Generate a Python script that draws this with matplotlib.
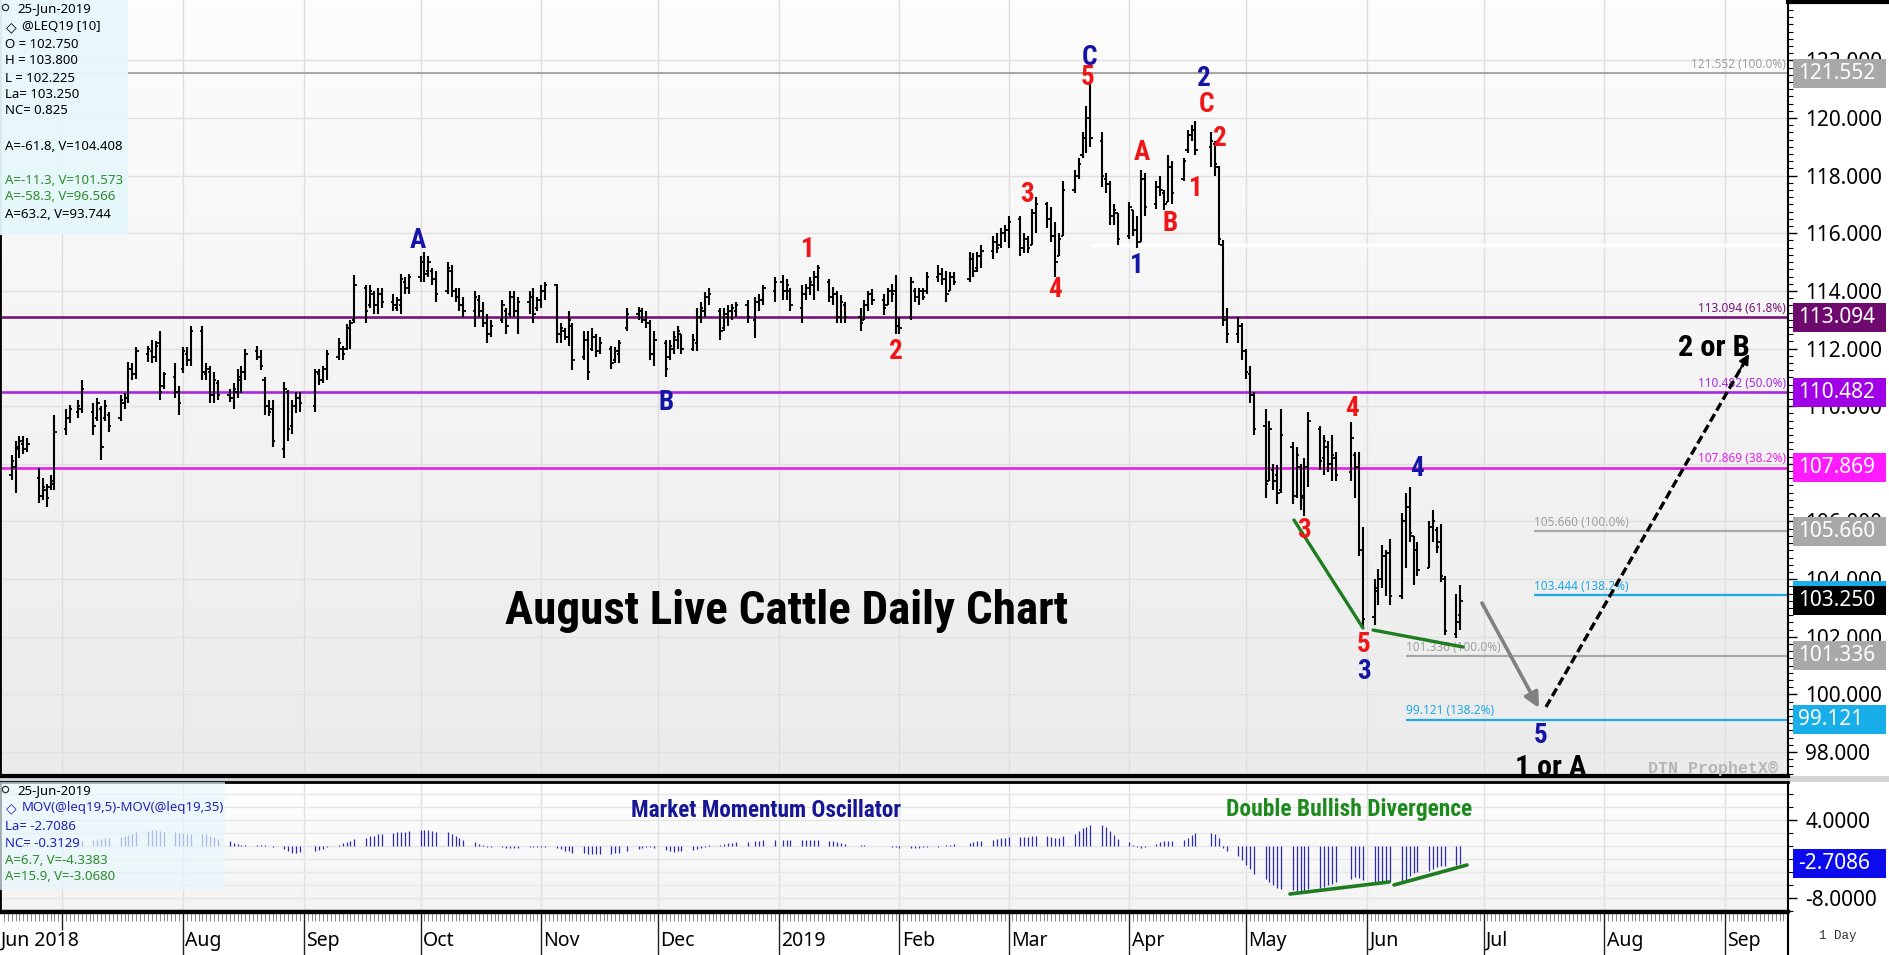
import os
import numpy as np
import pandas as pd
import matplotlib
matplotlib.use('Agg')
import matplotlib.pyplot as plt
import matplotlib.dates as mdates
import matplotlib.transforms as mtrans
from matplotlib.patches import Rectangle
from matplotlib.lines import Line2D
from matplotlib.colors import LinearSegmentedColormap
from matplotlib import font_manager as fm


def pick_font(cands):
    for c in cands:
        try:
            fm.findfont(fm.FontProperties(family=c), fallback_to_default=False)
            return c
        except Exception:
            pass
    return 'DejaVu Sans'


def find_narrow_bold():
    prefs = ['liberationsansnarrow-bold.', 'arialnarrowbold', 'arialnarrow-bold',
             'robotocondensed-bold.', 'opensanscondensed-bold', 'opensans_condensed-bold',
             'notosans-condensedbold', 'notosans-semicondensedbold',
             'notosansdisplay-condensedbold']
    files = [f.fname for f in fm.fontManager.ttflist]
    for p in prefs:
        for f in files:
            if p in os.path.basename(f).lower().replace(' ', ''):
                return f
    for f in files:
        nm = os.path.basename(f).lower()
        if (('narrow' in nm or 'condensed' in nm) and 'bold' in nm and 'dejavu' not in nm
                and 'extrabold' not in nm and 'semibold' not in nm and 'italic' not in nm):
            return f
    return None


UI = pick_font(['Noto Sans', 'Open Sans', 'DejaVu Sans'])
MONO = pick_font(['Liberation Mono', 'DejaVu Sans Mono'])
_nb = find_narrow_bold()
if _nb:
    NB = fm.FontProperties(fname=_nb)
    WAVE_SIZE = 19.5
else:
    NB = fm.FontProperties(family=pick_font(['Liberation Sans', 'Roboto', 'DejaVu Sans']),
                           weight='bold')
    WAVE_SIZE = 16.5

# ------------------------------------------------------------------ data
first_day = '2018-06-18'
last_day = '2019-06-25'
holidays = ['2018-07-04', '2018-09-03', '2018-11-22', '2018-12-25', '2019-01-01',
            '2019-01-21', '2019-02-18', '2019-04-19', '2019-05-27']

highs = [
    108.3, 108.8, 108.95, 108.95, 108.9,
    107.85, 107.5, 107.3, 107.6, 109.7,
    109.9, 110.05, 110.2, 110.9,
    110.1, 110.3, 110.0, 110.2, 109.8,
    110.4, 110.45, 111.55, 111.5, 112.05,
    112.1, 112.3, 112.25, 112.6, 111.2,
    111.5, 110.7, 112.05, 112.05, 112.8,
    112.8, 111.5, 111.4, 111.2, 110.9,
    110.6, 110.8, 111.3, 111.4, 112.0,
    112.1, 111.95, 111.0, 110.2, 110.2,
    110.85, 110.55, 110.2, 110.5, 110.5,
    111.3, 111.3, 111.4, 111.95,
    112.35, 112.1, 112.85, 113.0, 114.55,
    114.2, 114.2, 114.0, 114.1, 114.1,
    113.9, 113.8, 114.6, 114.5, 114.6,
    115.2, 115.35, 115.2, 114.8, 114.7,
    115.0, 114.9, 114.1, 114.1, 113.8,
    114.0, 113.85, 113.6, 113.2, 113.0,
    113.7, 113.4, 114.0, 114.0, 113.8,
    114.0, 114.1, 113.8, 114.2, 114.3,
    114.25, 112.9, 112.7, 113.3, 112.9,
    112.6, 112.6, 112.7, 112.5, 112.4,
    112.1, 112.05, 112.3, 113.4,
    113.45, 113.4, 113.3, 113.0, 112.6,
    112.3, 112.3, 112.6, 112.8, 112.5,
    112.5, 113.4, 113.6, 113.95, 114.1,
    113.4, 113.4, 113.5, 113.55, 113.6,
    113.7, 113.8, 113.9, 114.2,
    114.5, 114.55, 114.4, 114.1,
    114.2, 114.25, 114.5, 114.7, 114.9,
    114.4, 114.15, 114.0, 113.85, 113.6,
    113.4, 113.7, 114.0, 114.05,
    113.9, 114.1, 114.25, 114.55, 113.1,
    114.5, 114.1, 114.1, 114.1, 114.65,
    114.9, 114.8, 114.7, 114.65, 114.65,
    115.35, 115.3, 115.35, 115.6,
    115.9, 116.0, 116.2, 116.3, 116.6,
    116.6, 116.0, 115.9, 116.85, 117.25,
    117.1, 116.9, 116.4, 116.0, 117.8,
    118.2, 118.6, 119.5, 120.4, 121.2,
    119.5, 118.1, 117.8, 117.0, 116.7,
    117.1, 116.8, 116.6, 118.2, 118.1,
    117.8, 118.0, 117.5, 118.7, 118.5,
    118.6, 119.6, 119.75, 119.9,
    119.5, 119.2, 118.35, 115.75, 113.4,
    113.1, 112.9, 112.0, 111.4, 110.5,
    109.9, 109.5, 108.0, 107.95, 109.9,
    108.75, 108.6, 108.0, 108.2, 109.8,
    109.3, 109.0, 108.8, 109.0, 108.4,
    109.45, 108.4, 108.4, 105.8,
    104.0, 104.35, 105.2, 105.0, 105.4,
    106.3, 107.0, 107.2, 105.5, 105.3,
    106.0, 106.4, 105.8, 105.9, 104.1,
    103.5, 103.8,
]

lows = [
    107.45, 107.0, 108.2, 108.35, 108.4,
    106.65, 106.75, 106.5, 107.1, 107.1,
    109.0, 109.4, 109.6, 109.75,
    109.0, 109.5, 108.15, 109.5, 109.1,
    109.5, 109.9, 110.1, 110.9, 110.95,
    111.55, 111.5, 111.55, 110.2, 110.6,
    110.3, 109.7, 111.15, 111.4, 111.4,
    110.9, 110.9, 110.1, 110.1, 110.2,
    110.15, 109.9, 110.3, 110.45, 110.9,
    111.6, 111.25, 109.7, 109.65, 108.6,
    108.2, 108.8, 109.05, 109.75, 109.8,
    109.8, 110.75, 110.8, 110.9,
    111.6, 111.6, 111.95, 112.0, 112.9,
    112.9, 113.4, 113.2, 113.2, 113.4,
    113.3, 113.3, 113.2, 113.9, 113.9,
    114.3, 114.3, 114.5, 114.2, 113.6,
    113.9, 113.8, 113.6, 113.3, 113.1,
    112.75, 113.1, 112.75, 112.2, 112.4,
    112.9, 112.5, 113.1, 113.1, 112.5,
    113.2, 112.9, 113.3, 113.4, 113.7,
    112.2, 112.2, 112.3, 112.1, 111.25,
    111.6, 110.9, 111.9, 111.7, 111.8,
    111.3, 111.5, 111.5, 112.6,
    113.0, 112.9, 112.7, 111.6, 111.4,
    111.0, 111.6, 111.8, 112.0, 111.8,
    111.9, 111.9, 112.9, 113.1, 113.5,
    112.3, 112.6, 112.8, 113.0, 113.1,
    112.9, 112.35, 113.3, 113.5,
    113.6, 113.7, 113.7, 113.3,
    112.9, 113.7, 113.85, 113.7, 114.0,
    113.6, 113.5, 112.9, 112.9, 112.9,
    112.6, 113.0, 113.3, 113.5,
    113.15, 113.5, 113.6, 112.5, 112.5,
    113.0, 113.6, 113.5, 113.7, 113.9,
    114.3, 114.2, 113.6, 114.0, 114.2,
    114.3, 114.5, 114.65, 114.8,
    115.1, 115.3, 115.5, 115.7, 115.5,
    115.2, 115.3, 115.3, 115.6, 116.0,
    116.2, 115.7, 114.5, 115.2, 115.9,
    117.4, 117.9, 118.6, 118.8, 119.0,
    117.6, 117.4, 116.3, 116.3, 115.6,
    115.8, 115.9, 115.5, 115.7, 116.6,
    116.85, 117.3, 116.8, 117.1, 117.0,
    117.8, 118.8, 119.2, 118.7,
    118.3, 118.0, 115.6, 112.8, 112.2,
    112.2, 111.6, 110.95, 110.1, 109.0,
    106.8, 107.4, 107.1, 106.6, 107.0,
    106.6, 106.8, 106.4, 106.2, 107.2,
    107.8, 107.6, 107.7, 107.4, 107.4,
    107.4, 106.8, 104.8, 102.3,
    102.4, 103.1, 103.7, 103.4, 103.1,
    103.3, 104.4, 105.3, 103.8, 104.1,
    104.4, 105.3, 104.9, 103.9, 102.05,
    101.95, 102.225,
]

opens = [
    107.6, 107.9, 108.5, 108.7, 108.5,
    107.5, 106.9, 107.1, 107.2, 107.3,
    109.2, 109.6, 109.8, 109.9,
    109.8, 109.6, 109.9, 109.6, 109.7,
    109.6, 110.1, 110.3, 111.3, 111.1,
    111.8, 111.9, 111.7, 112.2, 110.7,
    111.0, 110.5, 111.3, 111.8, 111.6,
    112.6, 111.1, 111.2, 110.4, 110.8,
    110.4, 110.3, 110.5, 110.9, 111.2,
    111.9, 111.7, 110.9, 110.0, 109.9,
    108.5, 110.5, 109.3, 110.0, 110.3,
    110.0, 111.1, 110.9, 111.3,
    111.7, 112.0, 112.0, 112.7, 113.0,
    114.1, 113.5, 113.9, 113.5, 113.9,
    113.6, 113.4, 113.5, 114.3, 114.1,
    114.5, 115.0, 114.7, 114.7, 114.4,
    114.0, 114.7, 114.0, 113.8, 113.5,
    113.3, 113.7, 113.3, 112.9, 112.5,
    113.0, 113.3, 113.2, 113.8, 113.3,
    113.6, 113.8, 113.4, 113.7, 114.0,
    114.2, 112.5, 112.6, 112.4, 112.8,
    111.7, 112.3, 112.0, 112.4, 111.9,
    112.0, 111.6, 111.8, 112.7,
    113.2, 113.3, 113.0, 112.9, 111.8,
    112.2, 111.7, 112.0, 112.3, 112.5,
    112.0, 112.2, 113.1, 113.3, 113.8,
    113.3, 112.7, 113.1, 113.3, 113.3,
    113.5, 113.0, 113.6, 113.7,
    114.0, 114.3, 114.0, 114.0,
    113.4, 113.9, 114.1, 114.2, 114.5,
    114.3, 113.8, 113.9, 113.1, 113.5,
    113.1, 113.0, 113.5, 113.9,
    113.7, 113.5, 114.0, 114.0, 112.8,
    113.1, 114.0, 113.8, 114.0, 114.0,
    114.5, 114.6, 114.4, 114.0, 114.5,
    114.4, 115.1, 114.8, 115.2,
    115.4, 115.7, 115.6, 116.0, 116.1,
    116.5, 115.5, 115.8, 115.6, 116.7,
    117.0, 116.5, 115.9, 115.2, 115.9,
    117.5, 118.0, 118.7, 119.3, 120.0,
    119.2, 117.9, 117.7, 116.6, 116.7,
    115.9, 116.8, 116.1, 115.7, 117.9,
    117.0, 117.6, 117.4, 117.1, 118.3,
    117.9, 118.9, 119.4, 119.6,
    119.0, 119.1, 118.3, 115.6, 113.0,
    112.5, 112.8, 111.9, 111.1, 110.4,
    109.3, 107.4, 107.8, 107.6, 107.1,
    108.6, 106.9, 107.9, 106.9, 107.9,
    109.2, 108.2, 108.6, 108.0, 108.2,
    107.7, 108.3, 107.9, 105.0,
    102.7, 103.6, 104.0, 104.8, 104.9,
    103.4, 106.0, 106.5, 105.5, 105.0,
    104.4, 105.8, 105.7, 105.3, 104.0,
    102.1, 102.75,
]

closes = [
    108.1, 108.6, 108.8, 108.5, 108.7,
    106.9, 107.2, 106.8, 107.4, 109.1,
    109.6, 109.9, 110.0, 110.6,
    109.3, 110.1, 108.6, 110.0, 109.3,
    110.2, 110.3, 111.3, 111.1, 111.9,
    112.0, 111.7, 112.1, 110.5, 111.1,
    110.5, 110.1, 111.9, 111.6, 112.6,
    111.2, 111.3, 110.4, 110.9, 110.4,
    110.3, 110.6, 111.0, 111.2, 111.8,
    111.7, 111.4, 110.0, 109.8, 108.8,
    110.6, 109.2, 110.0, 110.3, 110.1,
    111.2, 110.9, 111.3, 111.8,
    112.2, 111.8, 112.7, 112.9, 114.2,
    113.3, 114.0, 113.5, 113.9, 113.6,
    113.5, 113.7, 114.4, 114.1, 114.5,
    115.0, 114.6, 115.0, 114.4, 113.9,
    114.8, 114.0, 113.8, 113.5, 113.3,
    113.8, 113.3, 112.9, 112.5, 112.8,
    113.5, 112.8, 113.8, 113.3, 113.6,
    113.8, 113.2, 113.7, 114.0, 114.2,
    112.5, 112.7, 112.4, 113.0, 111.6,
    112.3, 111.2, 112.4, 111.9, 112.2,
    111.5, 111.9, 112.2, 113.2,
    113.3, 113.0, 112.9, 111.8, 112.3,
    111.3, 112.1, 112.4, 112.6, 112.0,
    112.3, 113.1, 113.4, 113.8, 113.9,
    112.6, 113.2, 113.3, 113.4, 113.5,
    113.1, 113.6, 113.7, 114.1,
    114.3, 114.0, 114.2, 113.5,
    113.9, 114.1, 114.3, 114.5, 114.8,
    113.8, 113.9, 113.1, 113.6, 113.1,
    112.9, 113.5, 113.9, 113.7,
    113.4, 114.0, 113.9, 112.8, 112.7,
    114.3, 113.8, 114.0, 113.8, 114.5,
    114.6, 114.4, 113.9, 114.5, 114.3,
    115.1, 114.7, 115.2, 115.4,
    115.7, 115.5, 116.0, 116.1, 116.4,
    115.5, 115.8, 115.5, 116.7, 117.0,
    116.5, 115.9, 115.0, 115.8, 117.5,
    118.0, 118.4, 119.3, 120.0, 119.3,
    118.0, 117.7, 116.6, 116.8, 115.8,
    116.9, 116.1, 115.7, 117.9, 116.9,
    117.6, 117.5, 117.0, 118.3, 117.4,
    118.5, 119.4, 119.6, 118.9,
    119.2, 118.4, 115.8, 113.1, 112.5,
    112.8, 111.9, 111.2, 110.4, 109.2,
    107.3, 109.2, 107.4, 107.0, 109.0,
    106.9, 108.3, 106.8, 107.9, 109.5,
    108.1, 108.8, 108.0, 108.3, 107.6,
    108.9, 107.9, 105.0, 102.6,
    103.7, 104.0, 104.8, 104.9, 103.4,
    106.0, 106.5, 105.6, 105.0, 104.3,
    105.8, 106.0, 105.1, 104.1, 102.2,
    102.5, 103.25,
]

# MOV(5)-MOV(35) oscillator, read bar by bar
oscillator = [
    0.4, 0.35, 0.3, 0.3, 0.25,
    0.2, 0.15, 0.1, 0.1, 0.2,
    0.3, 0.4, 0.5, 0.7,
    0.9, 1.0, 1.1, 1.2, 1.3,
    1.4, 1.5, 1.7, 1.9, 2.1,
    2.3, 2.4, 2.4, 2.3, 2.2,
    2.1, 2.0, 2.0, 1.9, 1.9,
    1.9, 1.8, 1.6, 1.4, 1.1,
    0.7, 0.45, 0.25, 0.15, 0.1,
    0.15, 0.1, 0.1, 0.05, -0.2,
    -0.5, -0.8, -1.0, -1.1, -0.9,
    -0.8, -0.6, -0.4, -0.1,
    0.2, 0.4, 0.6, 0.8, 1.1,
    1.3, 1.5, 1.6, 1.8, 1.9,
    2.0, 2.1, 2.2, 2.2, 2.3,
    2.4, 2.4, 2.4, 2.3, 2.2,
    2.1, 1.9, 1.6, 1.3, 1.0,
    0.6, 0.3, 0.1, -0.1, -0.2,
    -0.2, -0.3, -0.3, -0.3, -0.3,
    -0.2, -0.2, -0.2, -0.1, -0.1,
    -0.3, -0.5, -0.7, -0.8, -1.0,
    -1.1, -1.2, -1.2, -1.2, -1.2,
    -1.2, -1.1, -1.0, -0.8,
    -0.5, -0.3, -0.2, -0.2, -0.3,
    -0.6, -0.8, -0.9, -0.8, -0.7,
    -0.6, -0.5, -0.3, -0.1, 0.1,
    0.2, 0.3, 0.4, 0.5, 0.6,
    0.6, 0.7, 0.8, 0.9,
    1.0, 1.0, 1.0, 1.0,
    0.9, 0.9, 0.9, 0.9, 0.9,
    0.8, 0.7, 0.6, 0.5, 0.35,
    0.2, 0.1, 0.05, 0.0,
    0.0, 0.0, -0.1, -0.2, -0.3,
    -0.3, -0.3, -0.3, -0.2, -0.2,
    -0.1, 0.0, 0.1, 0.2, 0.3,
    0.5, 0.6, 0.7, 0.8,
    1.0, 1.1, 1.2, 1.3, 1.4,
    1.4, 1.4, 1.4, 1.5, 1.5,
    1.5, 1.4, 1.3, 1.3, 1.5,
    1.9, 2.3, 2.7, 3.0, 3.2,
    3.2, 2.9, 2.3, 1.7, 1.1,
    0.6, 0.2, -0.2, -0.3, -0.2,
    0.3, 0.6, 0.7, 0.8, 0.8,
    0.9, 1.3, 1.7, 2.0,
    2.0, 1.8, 1.2, -0.3, -0.8,
    -1.5, -2.2, -2.9, -3.6, -4.3,
    -5.0, -5.5, -6.0, -6.4, -6.6,
    -6.8, -7.0, -7.0, -6.9, -6.6,
    -6.5, -6.3, -6.0, -5.8, -5.6,
    -5.0, -4.8, -4.9, -5.3,
    -5.6, -5.7, -5.6, -5.5, -5.6,
    -5.6, -5.2, -4.6, -4.2, -4.0,
    -3.8, -3.5, -3.3, -3.1, -3.0,
    -2.9, -2.7086,
]

fib_full_levels = [121.552, 113.094, 110.482, 107.869]
fib_full_labels = ['121.552 (100.0%)', '113.094 (61.8%)', '110.482 (50.0%)', '107.869 (38.2%)']
fib_short_levels = [105.660, 103.444, 101.336, 99.121]
fib_short_labels = ['105.660 (100.0%)', '103.444 (138.2%)', '101.336 (100.0%)', '99.121 (138.2%)']
fib_short_from = ['2019-07-14', '2019-07-14', '2019-06-11', '2019-06-11']

month_starts = ['2018-07-01', '2018-08-01', '2018-09-01', '2018-10-01', '2018-11-01',
                '2018-12-01', '2019-01-01', '2019-02-01', '2019-03-01', '2019-04-01',
                '2019-05-01', '2019-06-01', '2019-07-01', '2019-08-01', '2019-09-01']
month_labels = ['', 'Aug', 'Sep', 'Oct', 'Nov', 'Dec', '2019', 'Feb', 'Mar', 'Apr',
                'May', 'Jun', 'Jul', 'Aug', 'Sep']
first_month_label = 'Jun 2018'

info_lines = ['25-Jun-2019', '@LEQ19 [10]', 'O = 102.750', 'H = 103.800', 'L = 102.225',
              'La= 103.250', 'NC= 0.825', 'A=-61.8, V=104.408', 'A=-11.3, V=101.573',
              'A=-58.3, V=96.566', 'A=63.2, V=93.744']
osc_info_lines = ['25-Jun-2019', 'MOV(@leq19,5)-MOV(@leq19,35)', 'La= -2.7086',
                  'NC= -0.3129', 'A=6.7, V=-4.3383', 'A=15.9, V=-3.0680']

# ------------------------------------------------------------------ layout helpers
PXW, PXH = 1889, 955
AX_W = 1788
PPD = 3.894                      # pixels per calendar day
AUG1 = mdates.date2num(pd.Timestamp('2018-08-01'))
XL = AUG1 - 183 / PPD
XR = XL + AX_W / PPD
PPU = 28.82                      # main panel pixels per price unit
MAIN_BOT = 776
Y_TOP = 120 + 118 / PPU
Y_BOT = 120 - (MAIN_BOT - 118) / PPU
OSC_TOP, OSC_BOT = 782, 911
OPU = 6.5


def X(px):
    return XL + px / PPD


def Y(py):
    return 120 - (py - 118) / PPU


def YO(py):
    return (846 - py) / OPU


dates = pd.bdate_range(first_day, last_day)
dates = dates[~dates.isin(pd.to_datetime(holidays))]
n = min(len(dates), len(highs), len(lows), len(opens), len(closes), len(oscillator))
xs = mdates.date2num(dates[:n])
hi = np.array(highs[:n]); lo = np.array(lows[:n])
op = np.array(opens[:n]); cl = np.array(closes[:n])
osc = np.array(oscillator[:n])

RED = '#ee1616'
BLUE = '#1515a5'
GREEN_T = '#2e8b2e'

fig = plt.figure(figsize=(PXW / 100, PXH / 100), dpi=100)
fig.patch.set_facecolor('white')

ax = fig.add_axes([0, 1 - MAIN_BOT / PXH, AX_W / PXW, MAIN_BOT / PXH])
axo = fig.add_axes([0, 1 - OSC_BOT / PXH, AX_W / PXW, (OSC_BOT - OSC_TOP) / PXH])
axd = fig.add_axes([0, 0, AX_W / PXW, 42 / PXH])

fig.patches.append(Rectangle((0, 1 - OSC_TOP / PXH), 1, (OSC_TOP - MAIN_BOT) / PXH,
                             transform=fig.transFigure, facecolor='#d4d4d4',
                             edgecolor='none', zorder=-5))

month_nums = mdates.date2num(pd.to_datetime(month_starts))

# ------------------------------------------------------------------ main panel
bg = LinearSegmentedColormap.from_list('bg', ['#fdfdfd', '#ebebeb'])
ax.imshow(np.linspace(0, 1, 256).reshape(-1, 1), cmap=bg, extent=[0, 1, 0, 1],
          transform=ax.transAxes, aspect='auto', origin='upper', zorder=0)
for m in month_nums:
    ax.axvline(m, color='#dedede', lw=1, zorder=0.5)
for v in range(98, 124, 2):
    ax.axhline(v, color='#e0e0e0', lw=1, zorder=0.5)

# faint white level line
ax.hlines(115.6, mdates.date2num(pd.Timestamp('2019-03-22')), XR, color='white', lw=2.5,
          zorder=0.8)

fib_full_colors = ['#a8a8a8', '#781478', '#a628dc', '#e61ee6']
fib_full_lw = [1.5, 1.9, 1.9, 1.9]
blend = mtrans.blended_transform_factory(ax.transAxes, ax.transData)
for lv, lab, c, lw in zip(fib_full_levels, fib_full_labels, fib_full_colors, fib_full_lw):
    ax.axhline(lv, color=c, lw=lw, zorder=1)
    ax.text(1786 / AX_W, lv + 0.08, lab, transform=blend, ha='right', va='bottom',
            fontsize=8.5, color=c if c != '#a8a8a8' else '#a0a0a0', family=UI, zorder=1.2)

fib_short_colors = ['#a8a8a8', '#1ca9e4', '#a8a8a8', '#1ca9e4']
for lv, lab, c, st in zip(fib_short_levels, fib_short_labels, fib_short_colors, fib_short_from):
    s = mdates.date2num(pd.Timestamp(st))
    ax.hlines(lv, s, XR, color=c, lw=1.6, zorder=1)
    ax.text(s, lv + 0.08, lab, ha='left', va='bottom', fontsize=8.5,
            color='#a0a0a0' if c == '#a8a8a8' else '#1ca9e4', family=UI, zorder=1.2)

# OHLC bars
tick = 0.6
ax.vlines(xs, lo, hi, color='black', lw=1.5, zorder=3)
ax.hlines(op, xs - tick, xs, color='black', lw=1.3, zorder=3)
ax.hlines(cl, xs, xs + tick, color='black', lw=1.3, zorder=3)

# trendlines (green) on price
ax.plot([X(1294), X(1363)], [Y(520), Y(628)], color='#1f7d1f', lw=2.4, zorder=4,
        solid_capstyle='round')
ax.plot([X(1373), X(1463)], [Y(630), Y(647)], color='#1f7d1f', lw=2.4, zorder=4,
        solid_capstyle='round')

# projection arrows
ax.annotate('', xy=(X(1539), Y(708)), xytext=(X(1482), Y(603)),
            arrowprops=dict(arrowstyle='-|>,head_length=0.9,head_width=0.45', color='#808080',
                            lw=2.6, shrinkA=0, shrinkB=0), zorder=4)
ax.plot([X(1546), X(1744)], [Y(707), Y(363)], color='black', lw=2.4,
        ls=(0, (2.6, 1.2)), zorder=4)
ax.annotate('', xy=(X(1749), Y(354)), xytext=(X(1738), Y(373)),
            arrowprops=dict(arrowstyle='-|>,head_length=0.6,head_width=0.3', color='black',
                            lw=1.5, shrinkA=0, shrinkB=0), zorder=4)

# wave labels: (text, px x center, px baseline, colour)
wave_labels = [
    ('A', 418, 248, BLUE), ('B', 666, 410, BLUE),
    ('1', 808, 257, RED), ('2', 896, 359, RED),
    ('3', 1027, 202, RED), ('4', 1055, 297, RED),
    ('5', 1088, 85, RED), ('C', 1090, 65, BLUE),
    ('1', 1137, 273, BLUE), ('A', 1142, 160, RED),
    ('B', 1170, 231, RED), ('1', 1196, 196, RED),
    ('C', 1206, 112, RED), ('2', 1204, 86, BLUE),
    ('2', 1220, 146, RED), ('3', 1304, 538, RED),
    ('4', 1352, 416, RED), ('5', 1364, 652, RED),
    ('3', 1364, 679, BLUE), ('4', 1417, 476, BLUE),
    ('5', 1541, 743, BLUE),
]
for t, px, py, c in wave_labels:
    ax.text(X(px), Y(py), t, ha='center', va='baseline', fontproperties=NB,
            fontsize=WAVE_SIZE, color=c, zorder=5)

t_1a = ax.text(X(1551), Y(776), '1 or A', ha='center', va='baseline', fontproperties=NB,
               fontsize=23, color='black', zorder=5)
t_2b = ax.text(X(1714), Y(356), '2 or B', ha='center', va='baseline', fontproperties=NB,
               fontsize=23, color='black', zorder=5)
t_title = ax.text(X(787), Y(624), 'August Live Cattle Daily Chart', ha='center',
                  va='baseline', fontproperties=NB, fontsize=34.5, color='black', zorder=5)
ax.text(X(1778), Y(773), 'DTN ProphetX\u00ae', ha='right', va='baseline', fontsize=12,
        fontweight='bold', color='#b4b4b4', family=MONO, zorder=5)

# info box
ax.add_patch(Rectangle((0, 1 - 235 / MAIN_BOT), 128 / AX_W, 235 / MAIN_BOT,
                       transform=ax.transAxes, facecolor='#e6f7fb', edgecolor='none',
                       alpha=0.95, zorder=6))
info_y = [9, 27, 44, 61, 78, 95, 111, 146, 180, 197, 214]
info_x = [17, 22, 5, 5, 5, 5, 5, 5, 5, 5, 5]
info_c = ['black'] * 8 + [GREEN_T, GREEN_T, 'black']
for t, px, py, c in zip(info_lines, info_x, info_y, info_c):
    ax.text(px / AX_W, 1 - py / MAIN_BOT, t, transform=ax.transAxes, ha='left',
            va='center', fontsize=9.5, color=c, family=UI, zorder=7)
ax.text(6 / AX_W, 1 - 27 / MAIN_BOT, '\u25c7', transform=ax.transAxes, ha='left',
        va='center', fontsize=10, color='black', family='DejaVu Sans', zorder=7,
        fontweight='bold')
ax.plot([5 / AX_W], [1 - 7 / MAIN_BOT], marker='o', ms=4.5, mfc='none', mec='#333333',
        mew=0.9, transform=ax.transAxes, zorder=7, clip_on=False)

ax.set_xlim(XL, XR)
ax.set_ylim(Y_BOT, Y_TOP)
ax.set_xticks([])
ax.yaxis.tick_right()
ax.set_yticks(np.arange(98, 124, 2))
ax.set_yticklabels(['%.3f' % v for v in np.arange(98, 124, 2)])
ax.set_yticks(np.arange(97.25, 124.1, 0.25), minor=True)
ax.tick_params(axis='y', which='major', length=6.5, width=1, pad=6, labelsize=15,
               colors='black')
ax.tick_params(axis='y', which='minor', length=3.5, width=0.8)
for lab in ax.get_yticklabels():
    lab.set_family(UI)
ax.spines['top'].set_visible(False)
ax.spines['left'].set_linewidth(2)
ax.spines['right'].set_linewidth(1.5)
ax.spines['bottom'].set_linewidth(3)

# right-axis value boxes (the 103.444 box sits under the last-price box)
box_vals = [121.552, 113.094, 110.482, 107.869, 105.660, 103.444, cl[-1], 101.336, 99.121]
box_cols = ['#a8a8a8', '#6e0a6e', '#a000e6', '#ff1aff', '#a8a8a8', '#17aeea', '#000000',
            '#a8a8a8', '#17aeea']
box_show = [True, True, True, True, True, False, True, True, True]
bh = 29 / PPU
for i, (v, c, sh) in enumerate(zip(box_vals, box_cols, box_show)):
    ax.add_patch(Rectangle((1793 / AX_W, v - bh / 2), 93 / AX_W, bh, transform=blend,
                           facecolor=c, edgecolor='none', clip_on=False, zorder=20 + 2 * i))
    if sh:
        ax.text(1798 / AX_W, v, '%.3f' % v, transform=blend, ha='left', va='center',
                fontsize=15, color='white', family=UI, zorder=21 + 2 * i, clip_on=False)

# ------------------------------------------------------------------ oscillator panel
bg2 = LinearSegmentedColormap.from_list('bg2', ['#ffffff', '#f3f3f3'])
axo.imshow(np.linspace(0, 1, 64).reshape(-1, 1), cmap=bg2, extent=[0, 1, 0, 1],
           transform=axo.transAxes, aspect='auto', origin='upper', zorder=0)
for m in month_nums:
    axo.axvline(m, color='#e0e0e0', lw=1, zorder=0.5)
for v in range(-10, 10, 2):
    axo.axhline(v, color='#e6e6e6', lw=1, zorder=0.5)
axo.vlines(xs, 0, osc, color='#2b2bb0', lw=0.9, zorder=2)
axo.plot([X(1290), X(1389)], [YO(894), YO(882)], color='#1f7d1f', lw=2.6, zorder=3,
         solid_capstyle='round')
axo.plot([X(1394), X(1467)], [YO(885), YO(865)], color='#1f7d1f', lw=2.6, zorder=3,
         solid_capstyle='round')
t_mmo = axo.text(X(766), YO(817), 'Market Momentum Oscillator', ha='center', va='baseline',
                 fontproperties=NB, fontsize=16.5, color='#161696', zorder=5)
t_dbd = axo.text(X(1349), YO(816), 'Double Bullish Divergence', ha='center', va='baseline',
                 fontproperties=NB, fontsize=16.5, color='#1d8a1d', zorder=5)

ob = OSC_BOT - OSC_TOP
axo.add_patch(Rectangle((0, 1 - (890 - OSC_TOP) / ob), 225 / AX_W, (890 - OSC_TOP) / ob,
                        transform=axo.transAxes, facecolor='#e6f7fb', edgecolor='none',
                        alpha=0.7, zorder=6))
osc_y = [791, 808, 826, 843, 860, 876]
osc_x = [17, 22, 5, 5, 5, 5]
osc_c = ['black', '#2323b5', '#2323b5', '#2323b5', GREEN_T, GREEN_T]
for t, px, py, c in zip(osc_info_lines, osc_x, osc_y, osc_c):
    axo.text(px / AX_W, 1 - (py - OSC_TOP) / ob, t, transform=axo.transAxes, ha='left',
             va='center', fontsize=9.5, color=c, family=UI, zorder=7)
axo.text(6 / AX_W, 1 - (808 - OSC_TOP) / ob, '\u25c7', transform=axo.transAxes,
         ha='left', va='center', fontsize=10, color='#2323b5', family='DejaVu Sans',
         zorder=7, fontweight='bold')
axo.plot([5 / AX_W], [1 - (789 - OSC_TOP) / ob], marker='o', ms=4.5, mfc='none',
         mec='#333333', mew=0.9, transform=axo.transAxes, zorder=7, clip_on=False)

axo.set_xlim(XL, XR)
axo.set_ylim(YO(OSC_BOT), YO(OSC_TOP))
axo.set_xticks([])
axo.yaxis.tick_right()
axo.set_yticks([4, -8])
axo.set_yticklabels(['4.0000', '-8.0000'])
axo.set_yticks(np.arange(-10, 10, 2), minor=True)
axo.tick_params(axis='y', which='major', length=6.5, width=1, pad=6, labelsize=15)
axo.tick_params(axis='y', which='minor', length=3.5, width=0.8)
for lab in axo.get_yticklabels():
    lab.set_family(UI)
axo.spines['top'].set_linewidth(2)
axo.spines['left'].set_linewidth(2)
axo.spines['right'].set_linewidth(1.5)
axo.spines['bottom'].set_linewidth(2.5)
oblend = mtrans.blended_transform_factory(axo.transAxes, axo.transData)
obh = 29 / OPU
axo.add_patch(Rectangle((1793 / AX_W, osc[-1] - obh / 2), 93 / AX_W, obh, transform=oblend,
                        facecolor='#0b0bee', edgecolor='none', clip_on=False, zorder=20))
axo.text(1798 / AX_W, osc[-1], '%.4f' % osc[-1], transform=oblend, ha='left', va='center',
         fontsize=15, color='white', family=UI, zorder=21, clip_on=False)

# ------------------------------------------------------------------ date band
axd.set_xlim(XL, XR)
axd.set_ylim(0, 1)
axd.set_xticks([]); axd.set_yticks([])
for s in ['left', 'bottom']:
    axd.spines[s].set_visible(False)
axd.spines['top'].set_linewidth(1)
axd.spines['right'].set_linewidth(1.5)
day_nums = np.arange(np.ceil(XL), XR, 1.0)
axd.vlines(day_nums, 0.82, 1.0, color='#777777', lw=0.6)
for m, lab in zip(month_nums, month_labels):
    if lab:
        axd.vlines(m, 0, 1, color='#222222', lw=1)
        axd.text(m + 0.6, 0.34, lab, ha='left', va='center', fontsize=14, family=UI,
                 color='black')
    else:
        axd.vlines(m, 0.6, 1.0, color='#222222', lw=1)
axd.text(X(1), 0.34, first_month_label, ha='left', va='center', fontsize=14, family=UI,
         color='black')
fig.text(1838 / PXW, 1 - 936 / PXH, '1 Day', ha='center', va='center', fontsize=9,
         family=MONO, color='#333333')

fig.add_artist(Line2D([AX_W / PXW, 1], [1 - 2 / PXH, 1 - 2 / PXH], color='black', lw=3,
                      transform=fig.transFigure))

# fit the condensed headline texts to their widths in the reference
fig.canvas.draw()
_r = fig.canvas.get_renderer()
for t, target in [(t_title, 563), (t_1a, 72), (t_2b, 72), (t_mmo, 269), (t_dbd, 246)]:
    w = t.get_window_extent(_r).width
    if w > 0:
        t.set_fontsize(t.get_fontsize() * target / w)

fig.savefig('out.png', dpi=100, facecolor='white')
